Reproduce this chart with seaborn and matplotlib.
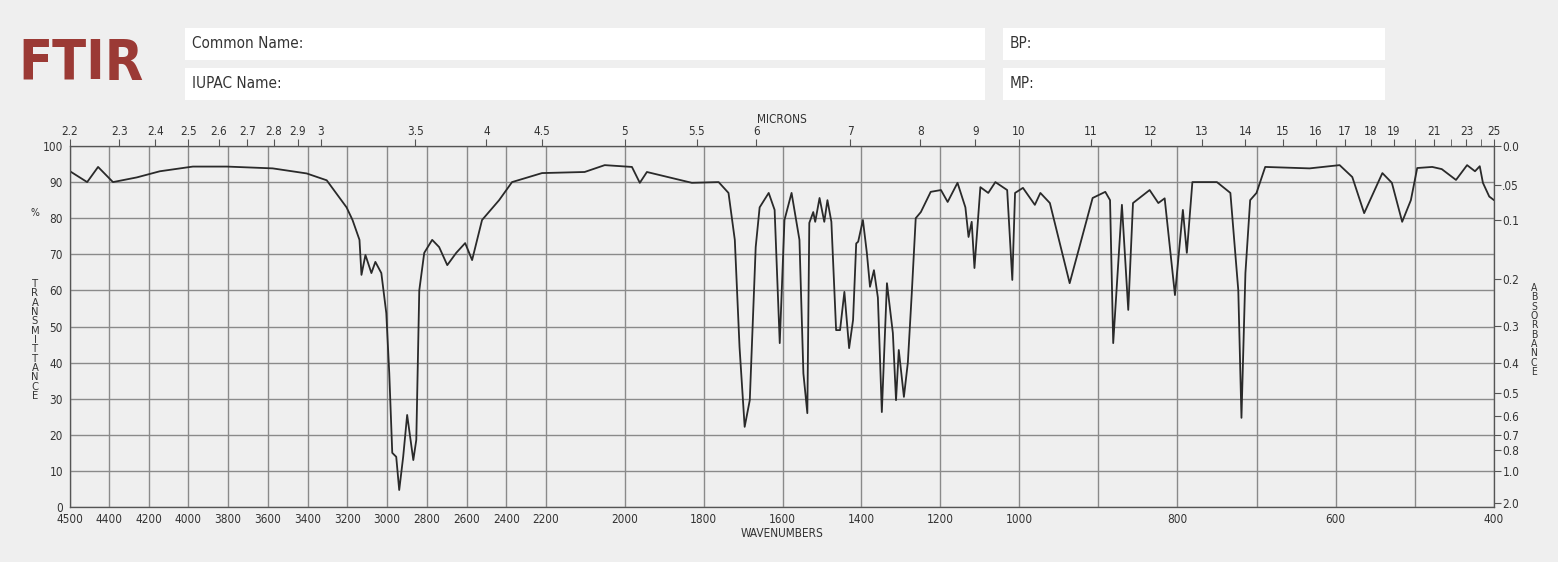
import numpy as np
import pandas as pd
import seaborn as sns
import matplotlib
matplotlib.use('Agg')
import matplotlib.pyplot as plt
from matplotlib.patches import Rectangle

# spectrum: wavenumber (cm-1) and % transmittance
wavenumber = [4500, 4456, 4428, 4380, 4260, 4144, 3978, 3807, 3576, 3405, 3304, 3204, 3174,
              3139, 3129, 3109, 3079, 3059, 3029, 3004, 2989, 2974, 2954, 2939, 2919, 2899,
              2868, 2853, 2838, 2813, 2773, 2738, 2697, 2652, 2607, 2572, 2522, 2436, 2371,
              2220, 2102, 2051, 1982, 1962, 1944, 1830, 1762, 1737, 1721, 1709, 1696, 1683,
              1673, 1668, 1658, 1635, 1620, 1607, 1595, 1577, 1557, 1547, 1537, 1532, 1522,
              1517, 1506, 1494, 1486, 1476, 1464, 1454, 1443, 1431, 1421, 1413, 1408, 1396,
              1386, 1378, 1368, 1358, 1348, 1335, 1320, 1312, 1305, 1292, 1282, 1272, 1262,
              1249, 1224, 1198, 1181, 1156, 1136, 1128, 1120, 1113, 1098, 1078, 1060, 1030,
              1017, 1010, 995, 980, 973, 961, 936, 919, 907, 891, 885, 881, 870, 862, 856,
              835, 824, 816, 803, 793, 788, 781, 750, 733, 723, 719, 714, 708, 700, 689, 633,
              595, 579, 564, 541, 529, 516, 505, 497, 478, 466, 448, 434, 424, 418, 414, 406, 400]
transmittance = [93.0, 90.0, 94.2, 90.0, 91.3, 93.0, 94.3, 94.3, 93.8, 92.4, 90.5, 83.0, 79.5,
                 74.0, 64.3, 69.8, 64.8, 67.9, 64.8, 53.7, 37.0, 15.0, 13.9, 4.7, 13.9, 25.5,
                 13.0, 18.6, 60.0, 70.4, 74.0, 72.0, 67.0, 70.4, 73.1, 68.4, 79.5, 85.0, 90.0,
                 92.5, 92.8, 94.7, 94.2, 89.8, 92.8, 89.8, 90.0, 87.0, 74.0, 44.3, 22.2, 29.6,
                 58.0, 72.0, 83.0, 87.0, 82.3, 45.4, 79.5, 87.0, 74.0, 37.0, 26.0, 78.7, 81.7,
                 79.0, 85.6, 79.0, 85.0, 79.0, 49.0, 49.0, 59.6, 44.0, 51.8, 73.0, 73.5, 79.5,
                 70.4, 61.0, 65.6, 58.0, 26.3, 62.0, 48.2, 29.6, 43.5, 30.5, 40.0, 59.3, 80.0,
                 81.7, 87.3, 87.8, 84.5, 89.8, 83.0, 74.8, 79.0, 66.2, 88.6, 87.0, 90.0, 87.8,
                 62.9, 87.0, 88.4, 83.7, 87.0, 84.2, 62.0, 75.9, 85.6, 87.3, 85.0, 45.4, 83.7,
                 54.6, 84.2, 87.8, 84.2, 85.5, 58.7, 82.3, 70.4, 90.0, 90.0, 87.0, 60.0, 24.7,
                 64.8, 85.0, 87.0, 94.2, 93.8, 94.7, 91.4, 81.4, 92.5, 89.8, 79.0, 85.0, 93.9,
                 94.2, 93.6, 90.6, 94.7, 93.0, 94.4, 89.8, 86.0, 85.0]

wn_ticks = [4500, 4400, 4200, 4000, 3800, 3600, 3400, 3200, 3000, 2800, 2600, 2400, 2200,
            2000, 1800, 1600, 1400, 1200, 1000, 800, 600, 400]
wn_minor = [900, 700, 500]
micron_ticks = [2.2, 2.3, 2.4, 2.5, 2.6, 2.7, 2.8, 2.9, 3, 3.5, 4, 4.5, 5, 5.5, 6, 7, 8, 9,
                10, 11, 12, 13, 14, 15, 16, 17, 18, 19, 21, 23, 25]
micron_minor = [20, 22, 24]
abs_ticks = [0.0, 0.05, 0.1, 0.2, 0.3, 0.4, 0.5, 0.6, 0.7, 0.8, 1.0, 2.0]
abs_labels = ['0.0', '.05', '0.1', '0.2', '0.3', '0.4', '0.5', '0.6', '0.7', '0.8', '1.0', '2.0']

# chart paper: x scale changes at 4400, 2200 and 1000 cm-1
scale_wn = np.array([4500, 4400, 2200, 1000, 400])
scale_px = np.array([70, 109, 546, 1019, 1494])


def fwd(w):
    return -np.interp(w, scale_wn[::-1], scale_px[::-1])


def inv(p):
    return np.interp(-p, scale_px, scale_wn)


sns.set_style('white')
plt.rcParams['font.family'] = ['DejaVu Sans']
plt.rcParams['font.stretch'] = 'condensed'
grid_col = '#8a8a8a'
bg = '#efefef'
tc = '#333333'
fs = 8.5

fig = plt.figure(figsize=(15.58, 5.62), dpi=100, facecolor=bg)
ax = fig.add_axes([70 / 1558, 1 - 507 / 562, (1494 - 70) / 1558, (507 - 146) / 562])
ax.set_facecolor(bg)
df = pd.DataFrame({'wn': wavenumber, 'T': transmittance})
sns.lineplot(data=df, x='wn', y='T', ax=ax, color='#2a2a2a', lw=1.3, sort=False)

ax.set_xscale('function', functions=(fwd, inv))
ax.set_xlim(4500, 400)
ax.set_ylim(0, 100)
ax.set_xticks(wn_ticks)
ax.set_xticklabels([str(t) for t in wn_ticks], fontsize=fs, color=tc)
ax.set_xticks(wn_minor, minor=True)
ax.set_yticks(range(0, 101, 10))
ax.set_yticklabels([str(t) for t in range(0, 101, 10)], fontsize=fs, color=tc)
ax.tick_params(axis='x', which='both', length=0, pad=4)
ax.tick_params(axis='y', which='both', length=0, pad=5)
ax.grid(True, which='both', color=grid_col, lw=1)
ax.set_xlabel('WAVENUMBERS', fontsize=fs, color=tc, labelpad=1)
ax.set_ylabel('')
for s in ax.spines.values():
    s.set_color('#555555')

# top axis in microns
top = ax.twiny()
top.set_xscale('function', functions=(fwd, inv))
top.set_xlim(4500, 400)
top.set_xticks([10000 / m for m in micron_ticks])
top.set_xticklabels([('%g' % m) for m in micron_ticks], fontsize=fs, color=tc)
top.set_xticks([10000 / m for m in micron_minor], minor=True)
top.tick_params(axis='x', which='both', length=5, direction='out', color='#555555', pad=1)
top.set_xlabel('MICRONS', fontsize=fs, color=tc, labelpad=1)

# right axis in absorbance
right = ax.twinx()
right.set_ylim(0, 100)
right.set_yticks([100 * 10 ** (-a) for a in abs_ticks])
right.set_yticklabels(abs_labels, fontsize=fs, color=tc)
right.tick_params(axis='y', length=5, direction='out', color='#555555', pad=1)
for a in (top, right):
    for s in a.spines.values():
        s.set_color('#555555')

fig.text(35 / 1558, 1 - 213 / 562, '%', fontsize=7.5, color=tc, ha='center', va='center')
fig.text(35 / 1558, 1 - 340 / 562, '\n'.join('TRANSMITTANCE'), fontsize=8, color=tc,
         ha='center', va='center', linespacing=0.92)
fig.text(1534 / 1558, 1 - 330 / 562, '\n'.join('ABSORBANCE'), fontsize=7.5, color=tc,
         ha='center', va='center', linespacing=0.92)

# header
fig.text(18 / 1558, 1 - 64 / 562, 'FTIR', fontsize=40, fontweight='bold', color='#9b3a35',
         ha='left', va='center')
boxes = [(185, 28, 800, 'Common Name:'), (185, 68, 800, 'IUPAC Name:'),
         (1003, 28, 382, 'BP:'), (1003, 68, 382, 'MP:')]
for x0, y0, w, label in boxes:
    fig.patches.append(Rectangle((x0 / 1558, 1 - (y0 + 32) / 562), w / 1558, 32 / 562,
                                 transform=fig.transFigure, facecolor='white', edgecolor='none'))
    fig.text((x0 + 7) / 1558, 1 - (y0 + 16) / 562, label, fontsize=11, color=tc,
             ha='left', va='center')

fig.savefig('out.png', dpi=100, facecolor=bg)
